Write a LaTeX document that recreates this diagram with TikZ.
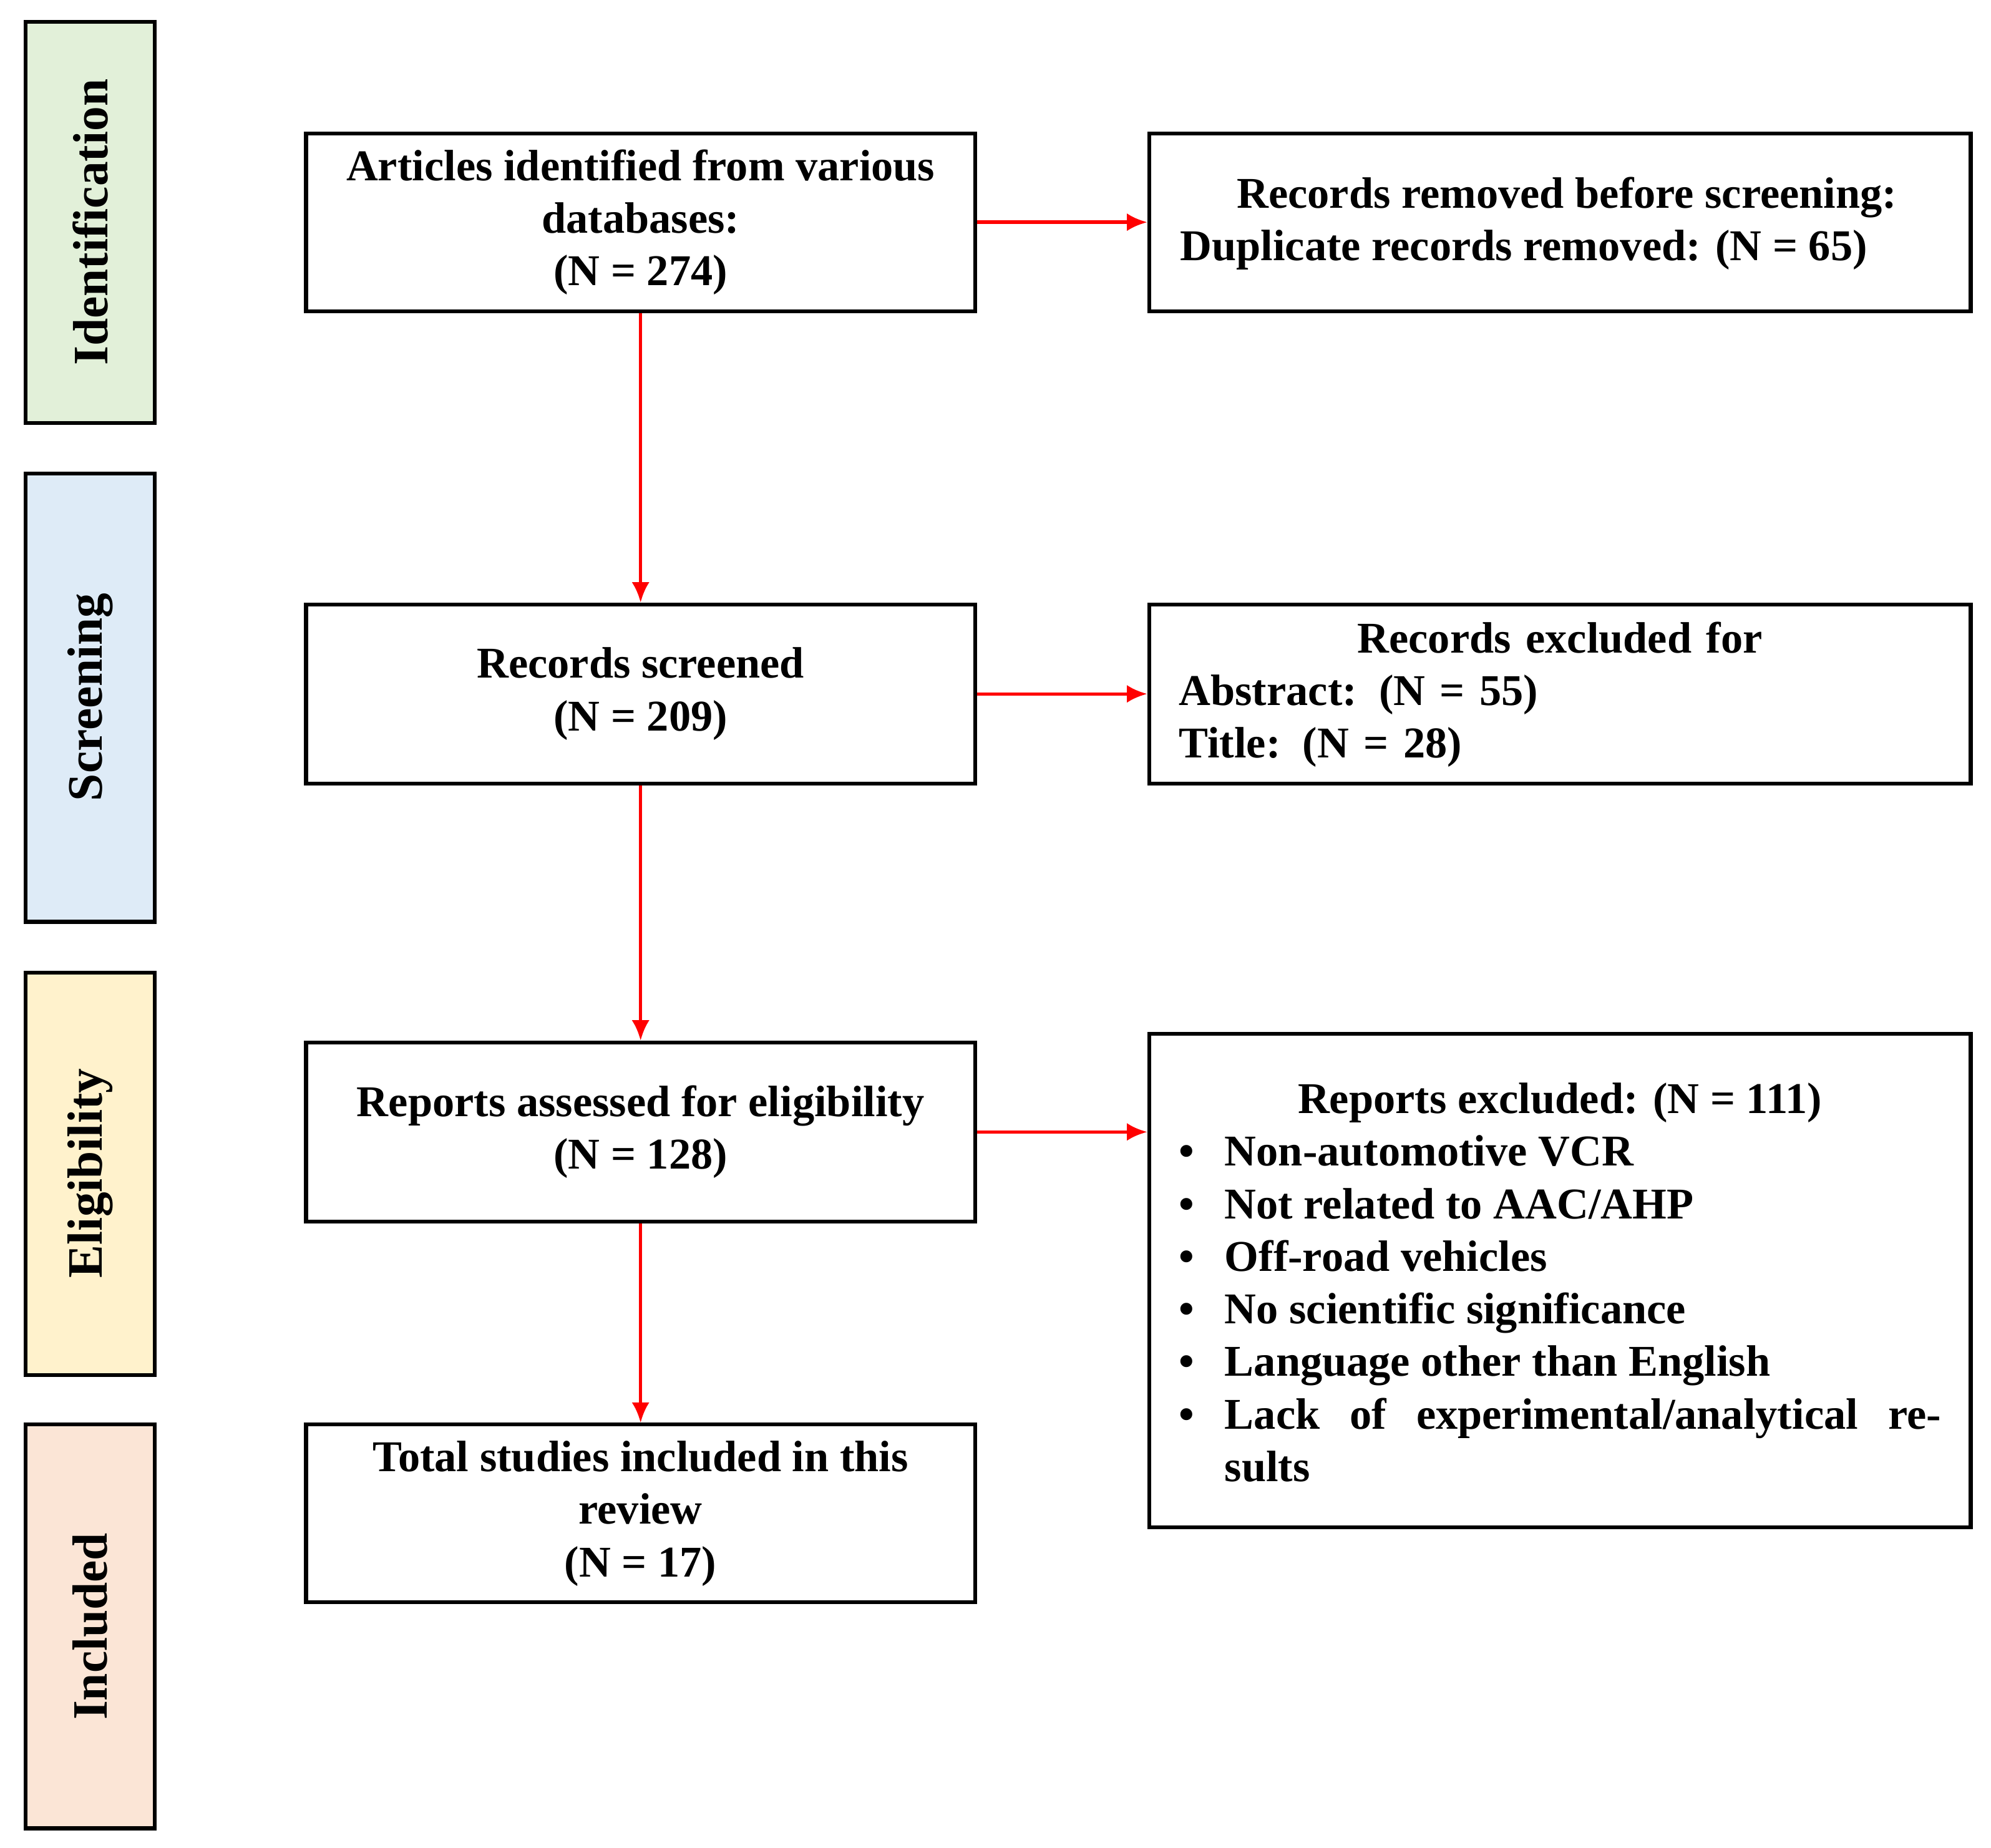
\documentclass[tikz,border=0pt]{standalone}
\usepackage{fontspec}
\setmainfont{Liberation Serif}
\usetikzlibrary{arrows.meta}
\definecolor{cg}{HTML}{E2F0D9}\definecolor{cb}{HTML}{DEEBF7}
\definecolor{cy}{HTML}{FFF2CC}\definecolor{co}{HTML}{FBE5D6}
\begin{document}
\begin{tikzpicture}[x=0.5pt,y=-0.5pt,
  box/.style={draw,line width=1.5pt,fill=white},
  side/.style={draw,line width=1.5pt},
  txt/.style={font=\fontsize{17.3}{20.7}\selectfont\bfseries,inner sep=0pt},
  stxt/.style={font=\fontsize{19.5}{22}\selectfont\bfseries,inner sep=0pt},
  arr/.style={red,line width=1.3pt,-{Latex[length=8pt,width=7pt]}}]
\useasboundingbox (0,0) rectangle (1568,1455);
\fill[white] (0,0) rectangle (1568,1455);
% side bars
\draw[side,fill=cg] (20,17) rectangle (122,333);
\draw[side,fill=cb] (20,373) rectangle (122,726);
\draw[side,fill=cy] (20,766) rectangle (122,1083);
\draw[side,fill=co] (20,1122) rectangle (122,1440);
\node[stxt,rotate=90] (s1) at (71,175) {Identification};
\node[stxt,rotate=90] (s2) at (71,549) {Screening};
\node[stxt,rotate=90] (s3) at (71,924) {Eligibility};
\node[stxt,rotate=90] (s4) at (71,1281) {Included};
% left boxes
\node[box,minimum width=263.5pt,minimum height=70pt,txt,align=center] (a) at (504.5,175) {Articles identified from various\\databases:\\(N = 274)};
\node[box,minimum width=263.5pt,minimum height=70.5pt,txt,align=center] (b) at (504.5,546.5) {Records screened\\(N = 209)};
\node[box,minimum width=263.5pt,minimum height=70.5pt,txt,align=center] (c) at (504.5,891.5) {Reports assessed for eligibility\\(N = 128)};
\node[box,minimum width=263.5pt,minimum height=70pt,txt,align=center] (d) at (504.5,1192) {Total studies included in this\\review\\(N = 17)};
% right boxes
\node[box,minimum width=323.5pt,minimum height=70pt] (r1) at (1228.5,175) {};
\node[txt,align=center] (r1t) at (1200,176) {\hspace*{34pt}Records removed before screening:\\Duplicate records removed: (N = 65)};
\node[box,minimum width=323.5pt,minimum height=70.5pt] (r2) at (1228.5,546.5) {};
\node[txt,text width=300pt,align=left] (r2t) at (1228.5,547) {\centering Records excluded for\par\raggedright Abstract: (N = 55)\\Title: (N = 28)};
\node[box,minimum width=323.5pt,minimum height=194.5pt] (r3) at (1228.5,1008.5) {};
\node[txt,text width=300pt,align=justify] (r3t) at (1228.5,1010) {%
\noindent\hfil Reports excluded: (N = 111)\hfil\par
\noindent\makebox[18pt][l]{•}Non-automotive VCR\par
\noindent\makebox[18pt][l]{•}Not related to AAC/AHP\par
\noindent\makebox[18pt][l]{•}Off-road vehicles\par
\noindent\makebox[18pt][l]{•}No scientific significance\par
\noindent\makebox[18pt][l]{•}Language other than English\par
\hangindent=18pt\hangafter=1\noindent\makebox[18pt][l]{•}Lack of experimental/analytical results\par};
% arrows
\draw[arr] (a) -- (b);
\draw[arr] (b) -- (c);
\draw[arr] (c) -- (d);
\draw[arr] (a) -- (r1);
\draw[arr] (b) -- (r2);
\draw[arr] (c.east) -- (c.east -| r3.west);
\end{tikzpicture}
\end{document}
